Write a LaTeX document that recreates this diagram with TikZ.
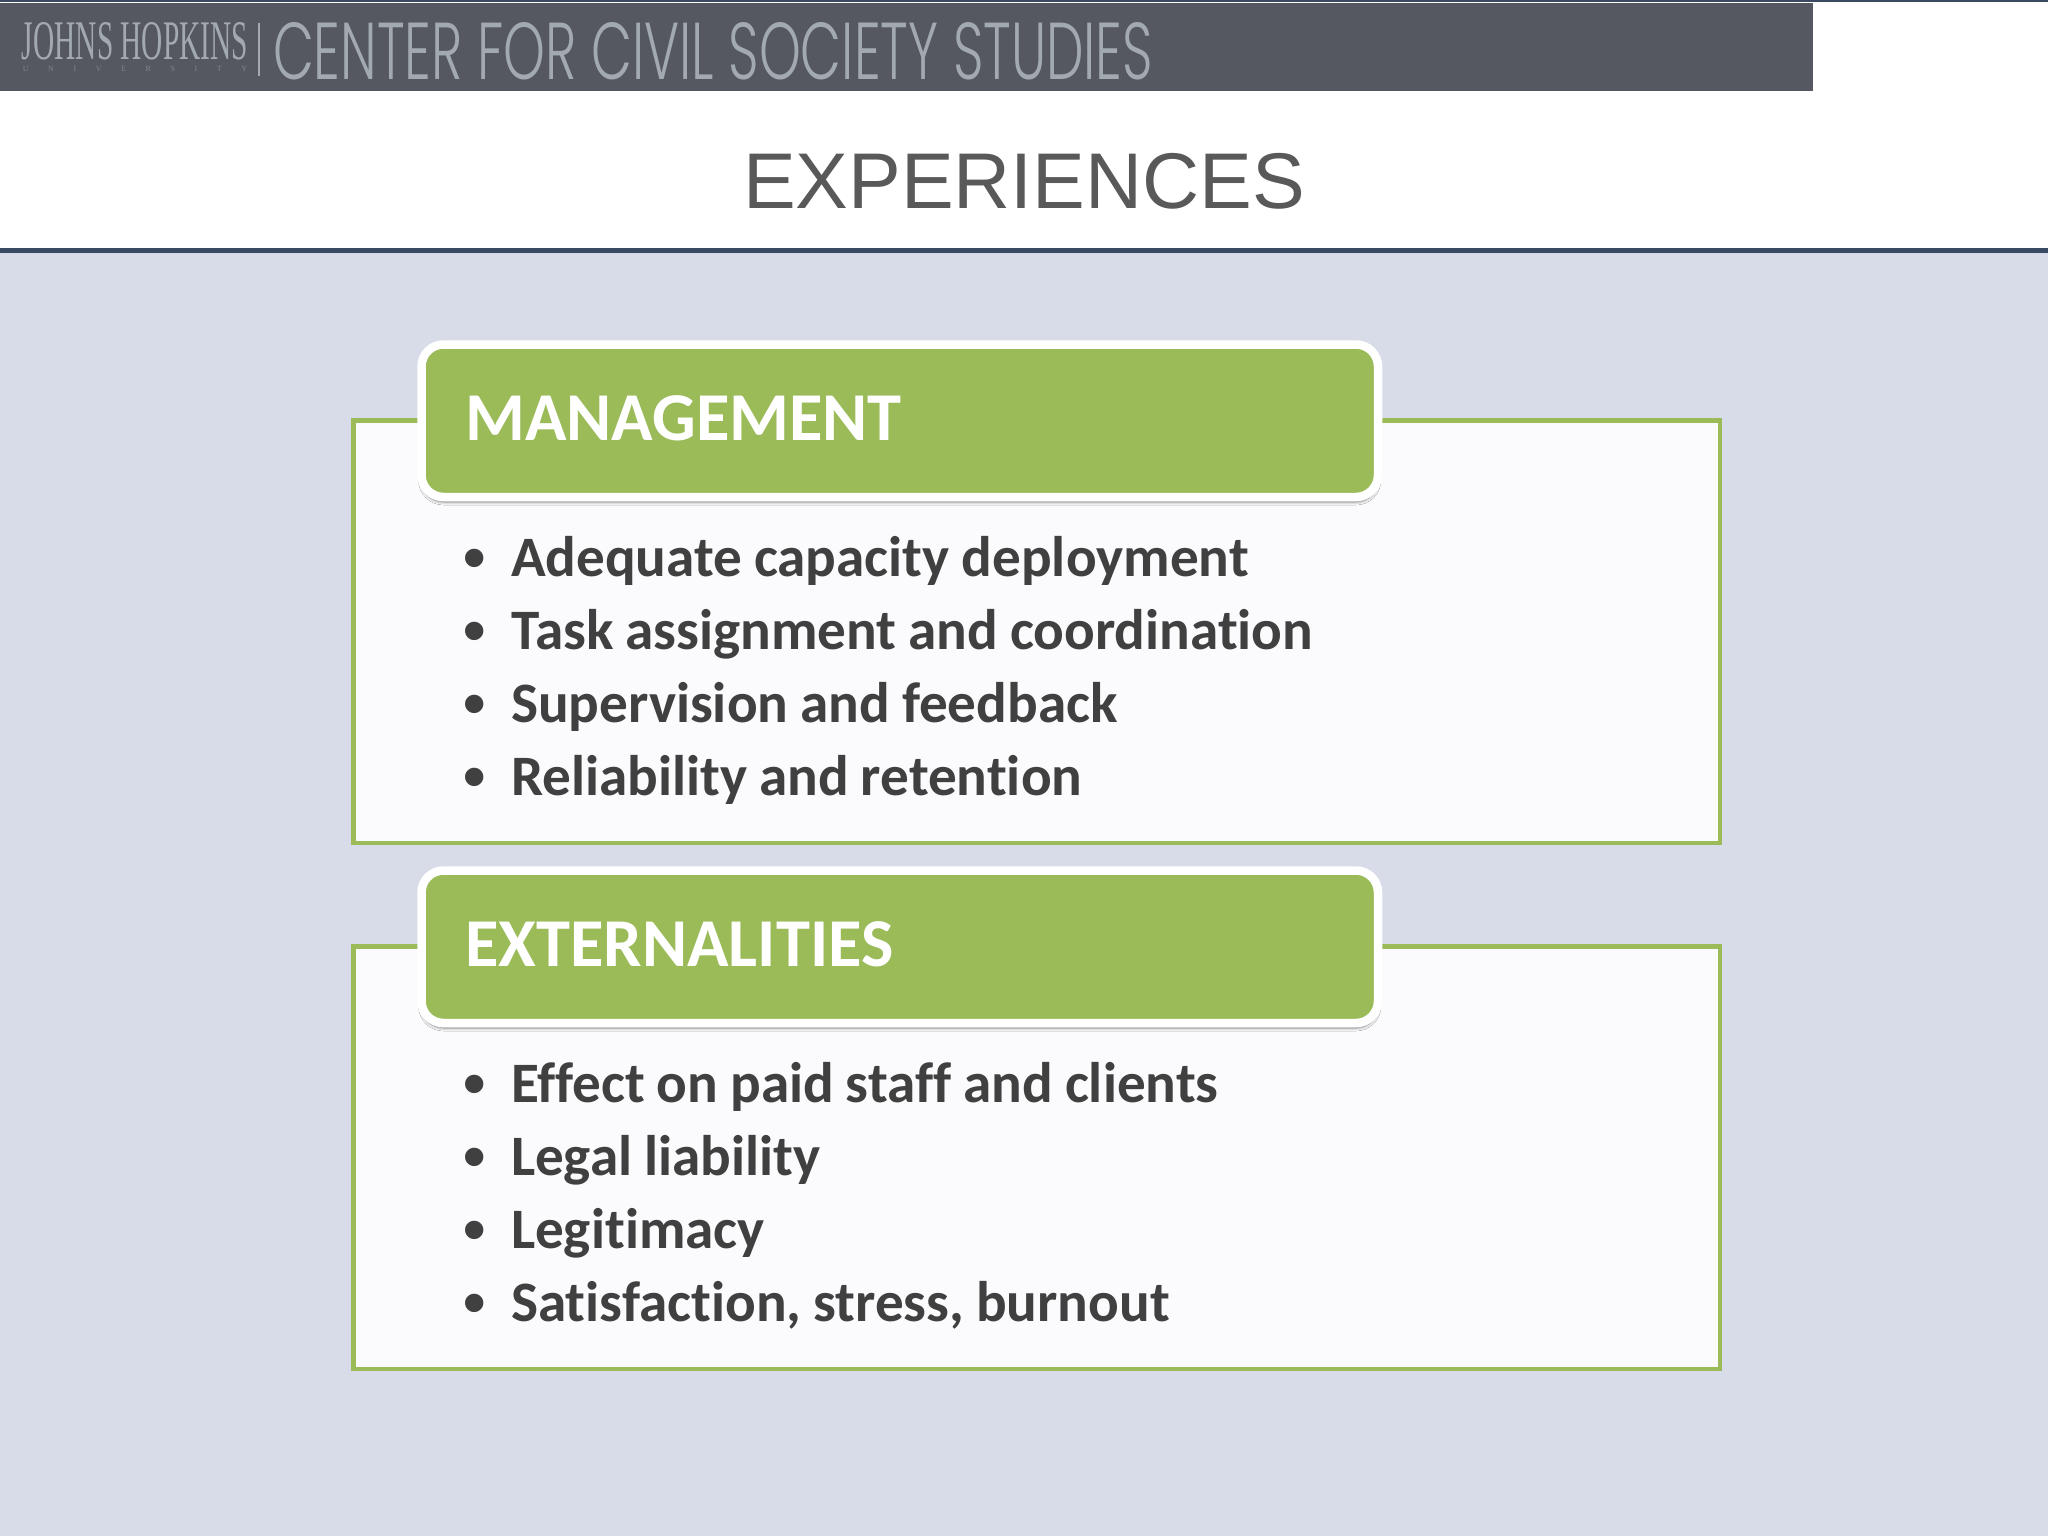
\documentclass[tikz,border=0pt]{standalone}
\usepackage{fontspec}
\newfontfamily\bodyfont[RawFeature={-liga;-clig;-calt;-dlig}]{Carlito}
\newfontfamily\titlefont{Liberation Sans}
\newfontfamily\logofont{Liberation Serif}
\newfontfamily\bannerfont[UprightFont=* Light]{Poppins}
\usetikzlibrary{calc}
\usetikzlibrary{chains}
\usetikzlibrary{positioning}
\usetikzlibrary{shadows.blur}
\definecolor{panelgreen}{HTML}{9BBB59}
\definecolor{slidebg}{HTML}{D8DCE8}
\definecolor{bannergrey}{HTML}{555861}
\definecolor{bannertext}{HTML}{A3A9B1}
\definecolor{rulecol}{HTML}{3A4A63}
\definecolor{panelfill}{HTML}{FBFAFD}
\definecolor{itemcol}{HTML}{404040}
\tikzset{
	x=1pt, y=1pt,
	panel/.style={
		rectangle,
		draw=panelgreen, line width=4.5pt,
		fill=panelfill,
		outer sep=0pt,
		minimum width=1366.5pt,
		minimum height=422.5pt},
	headbox/.style={
		rectangle,
		rounded corners=22pt,
		draw=white, line width=8.5pt,
		fill=panelgreen,
		outer sep=0pt,
		blur shadow={shadow xshift=0pt, shadow yshift=-5pt, shadow blur radius=3pt, shadow opacity=50},
		minimum width=956.5pt,
		minimum height=152.5pt,
		inner xsep=43.5pt,
		text width=869pt,
		text height=45pt,
		text depth=5pt,
		align=left,
		text=white,
		font=\bodyfont\bfseries\fontsize{68.5}{72}\selectfont},
	listitem/.style={
		rectangle,
		inner sep=0pt,
		outer sep=0pt,
		text width=1100pt,
		text height=54pt,
		text depth=19pt,
		align=left,
		text=itemcol,
		font=\bodyfont\bfseries\fontsize{57.2}{60}\selectfont},
	bannerlabel/.style={
		inner sep=0pt,
		outer sep=0pt,
		anchor=south west,
		text=bannertext},
}
\newcommand{\bulletline}[1]{\spaceskip=11.9pt\relax\makebox[48pt][l]{\raisebox{-3pt}{\titlefont\fontsize{64}{66}\selectfont •}}#1}

\begin{document}
\begin{tikzpicture}[node distance=0pt]
	\useasboundingbox (0,0) rectangle (2048,-1536);
	% slide ground
	\fill[white] (0,0) rectangle (2048,-1536);
	\fill[slidebg] (0,-250) rectangle (2048,-1536);
	\fill[rulecol] (0,0) rectangle (2048,-2);
	\fill[bannergrey] (0,-3.5) rectangle (1813,-91.5);
	\fill[rulecol] (0,-248) rectangle (2048,-253);
	% banner
	\node[bannerlabel] (jhu) at (22,-60) {\resizebox{226pt}{37pt}{\logofont JOHNS HOPKINS}};
	\node[bannerlabel, below=6pt of jhu, text=bannertext!55!bannergrey, font=\logofont\fontsize{8}{8}\selectfont\addfontfeature{LetterSpace=245}] (univ) {UNIVERSITY};
	\node[bannerlabel] (bar) at (258,-76) {\rule{1.5pt}{53pt}};
	\node[bannerlabel] (civil) at (273,-80) {\resizebox{880pt}{57pt}{\bannerfont CENTER FOR CIVIL SOCIETY STUDIES}};
	% title
	\node[inner sep=0pt, anchor=base, text=black!65, font=\titlefont\fontsize{79}{84}\selectfont] (title) at (1024,-208.5) {EXPERIENCES};
	% management
	\node[panel, anchor=north west] (mgmtbox) at (353.5,-420.5) {};
	\node[headbox, anchor=north west, xshift=68pt, yshift=76pt] (mgmthead) at (mgmtbox.north west) {MANAGEMENT};
	\begin{scope}[start chain=mgmt going below]
		\node[listitem, on chain=mgmt, anchor=north west] (m1) at (463,-522) {\bulletline{Adequate capacity deployment}};
		\node[listitem, on chain=mgmt] (m2) {\bulletline{Task assignment and coordination}};
		\node[listitem, on chain=mgmt] (m3) {\bulletline{Supervision and feedback}};
		\node[listitem, on chain=mgmt] (m4) {\bulletline{Reliability and retention}};
	\end{scope}
	% externalities
	\node[panel, below=103.5pt of mgmtbox] (extbox) {};
	\node[headbox, anchor=north west, xshift=68pt, yshift=76pt] (exthead) at (extbox.north west) {EXTERNALITIES};
	\begin{scope}[start chain=ext going below]
		\node[listitem, on chain=ext, anchor=north west] (e1) at (463,-1048) {\bulletline{Effect on paid staff and clients}};
		\node[listitem, on chain=ext] (e2) {\bulletline{Legal liability}};
		\node[listitem, on chain=ext] (e3) {\bulletline{Legitimacy}};
		\node[listitem, on chain=ext] (e4) {\bulletline{Satisfaction, stress, burnout}};
	\end{scope}
\end{tikzpicture}
\end{document}
